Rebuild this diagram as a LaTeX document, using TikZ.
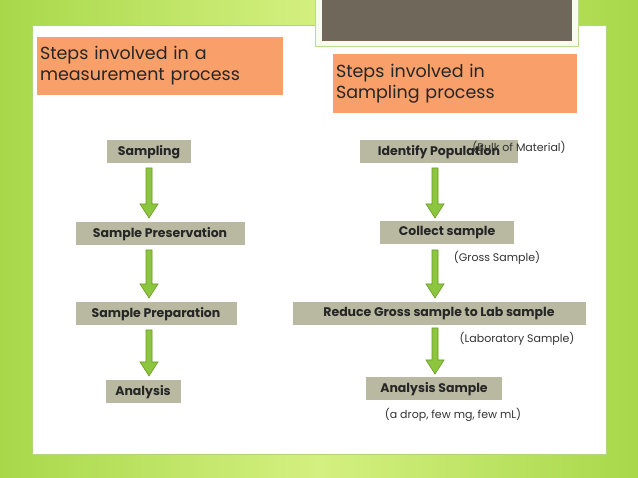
\documentclass[tikz,border=0pt]{standalone}
\usepackage{fontspec}
\setmainfont{Poppins}
\usetikzlibrary{calc}
\begin{document}
\begin{tikzpicture}[x=1pt,y=-1pt,
  title/.style={fill=ttl, inner sep=0pt, align=left, font=\fontsize{17.5}{21}\selectfont, text=black!85},
  stepbox/.style={fill=gbox, inner sep=3pt, minimum height=23, font=\bfseries\fontsize{12.5}{14}\selectfont, text=black!85},
  lbl/.style={font=\fontsize{11}{13}\selectfont, text=black!80, inner sep=0pt},
  barrow/.style={fill=arrg, draw=arrd, line width=0.6pt}]
\definecolor{ttl}{HTML}{F9A06A}
\definecolor{gbox}{HTML}{B9B9A2}
\definecolor{arrg}{HTML}{8CC63F}
\definecolor{arrd}{HTML}{6A9A20}
\definecolor{bga}{HTML}{A8D84A}
\definecolor{bgb}{HTML}{D4F080}
\definecolor{dark}{HTML}{6F6759}
\useasboundingbox (0,0) rectangle (638,478);
\shade[left color=bga, right color=bga, middle color=bgb] (0,0) rectangle (638,478);
\fill[white, draw=arrg!70!white, line width=1pt] (32,26) rectangle (606,455);
\fill[white!92!bga, draw=arrg!60!white, line width=1pt] (315,-2) rectangle (578,47);
\fill[dark] (322,-2) rectangle (572,41);
\node[title, minimum width=246, minimum height=58, text width=240] (t1) at (160,66) {Steps involved in a\\measurement process};
\node[title, minimum width=244, minimum height=59, text width=238] (t2) at (455,84) {Steps involved in\\Sampling process};
\newcommand{\blockarrow}[2]{%
  \path (#1.south) ++(0,4) coordinate (ta);
  \path (#2.north) ++(0,-4) coordinate (tb);
  \filldraw[barrow] ($(ta)+(-3,0)$) -- ($(ta)+(3,0)$) -- ($(tb)+(3,-14)$) -- ($(tb)+(9,-14)$) -- (tb) -- ($(tb)+(-9,-14)$) -- ($(tb)+(-3,-14)$) -- cycle;}
\node[stepbox, minimum width=84] (a1) at (149,152) {Sampling};
\node[stepbox, minimum width=169] (a2) at (160,234) {Sample Preservation};
\node[stepbox, minimum width=161] (a3) at (156,314) {Sample Preparation};
\node[stepbox, minimum width=75] (a4) at (143,392) {Analysis};
\node[stepbox, minimum width=158] (b1) at (439,152) {Identify Population};
\node[stepbox, minimum width=134] (b2) at (447,233) {Collect sample};
\node[stepbox, minimum width=293] (b3) at (439,314) {Reduce Gross sample to Lab sample};
\node[stepbox, minimum width=136] (b4) at (434,389) {Analysis Sample};
\coordinate (a1s) at (149,164); \coordinate (a2n) at (149,222);
\coordinate (a2s) at (149,246); \coordinate (a3n) at (149,302);
\coordinate (a3s) at (149,326); \coordinate (a4n) at (149,380);
\coordinate (b1s) at (435,164); \coordinate (b2n) at (435,222);
\coordinate (b2s) at (435,246); \coordinate (b3n) at (435,302);
\coordinate (b3s) at (435,324); \coordinate (b4n) at (435,378);
\blockarrow{a1s}{a2n}\blockarrow{a2s}{a3n}\blockarrow{a3s}{a4n}
\blockarrow{b1s}{b2n}\blockarrow{b2s}{b3n}\blockarrow{b3s}{b4n}
\node[lbl] (l1) at (519,147) {(Bulk of Material)};
\node[lbl] (l2) at (497,258) {(Gross Sample)};
\node[lbl] (l3) at (517,339) {(Laboratory Sample)};
\node[lbl] (l4) at (453,415) {(a drop, few mg, few mL)};
\end{tikzpicture}
\end{document}
